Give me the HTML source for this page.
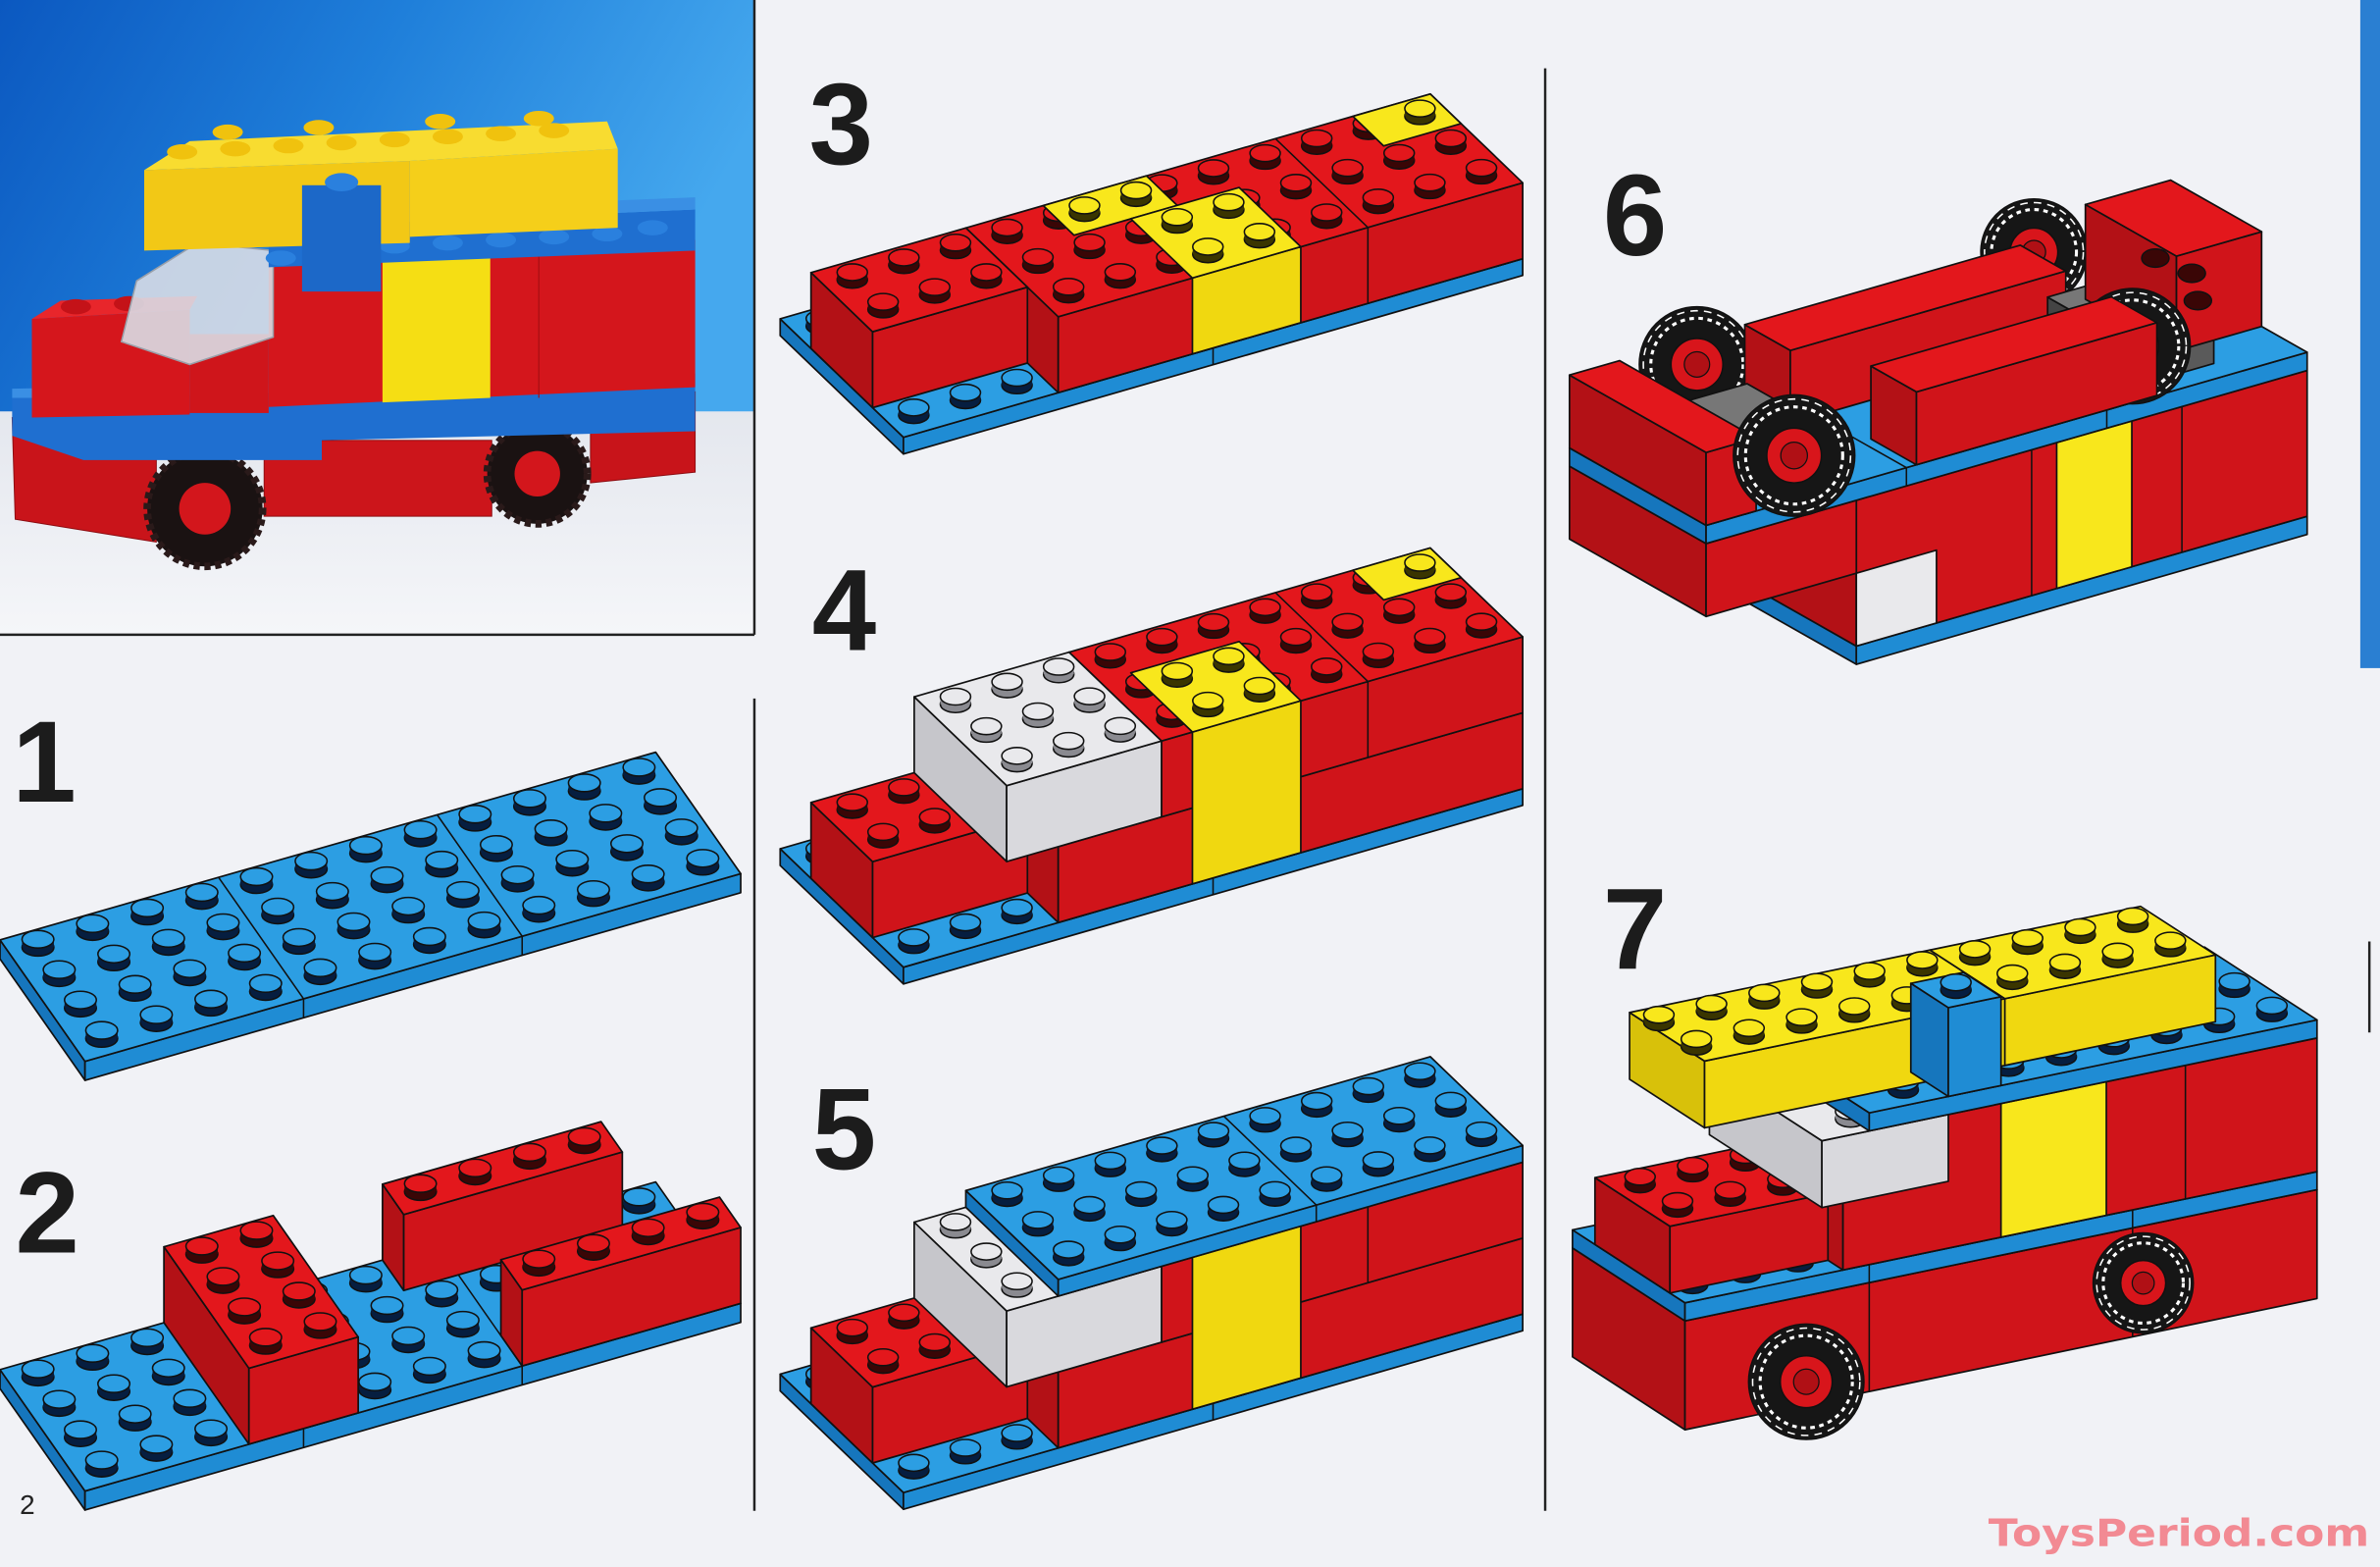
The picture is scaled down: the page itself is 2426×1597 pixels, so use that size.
<!DOCTYPE html>
<html><head><meta charset="utf-8"><style>
html,body{margin:0;padding:0;background:#f1f2f6;}
svg{display:block;}
</style></head><body>
<svg id="s" width="2426" height="1597" viewBox="0 0 1568 1032" preserveAspectRatio="none" xmlns="http://www.w3.org/2000/svg">
<defs>
<linearGradient id="sky" x1="0" y1="0" x2="1" y2="0.3">
<stop offset="0" stop-color="#0b58c0"/><stop offset="0.5" stop-color="#1f7fda"/><stop offset="1" stop-color="#45a8ee"/>
</linearGradient>
<linearGradient id="floor" x1="0" y1="0" x2="0" y2="1">
<stop offset="0" stop-color="#e4e7ee"/><stop offset="1" stop-color="#f5f6f9"/>
</linearGradient>
</defs>
<rect width="1568" height="1032" fill="#f1f2f6"/>
<rect x="1555" y="0" width="13" height="440" fill="#2a7fd2"/>
<!-- photo -->
<rect x="0" y="0" width="497" height="271" fill="url(#sky)"/>
<rect x="0" y="271" width="497" height="147" fill="url(#floor)"/>
<g stroke="#8a0b10" stroke-width="0.6">
<polygon points="8,275 103,282 103,357 10,342" fill="#c9141a"/>
<rect x="174" y="290" width="150" height="50" fill="#cc151b"/>
<polygon points="389,268 458,258 458,311 389,318" fill="#c8141a"/>
</g>
<circle cx="135" cy="335" r="38" fill="#1a1212" stroke="#2a1a1a" stroke-width="5" stroke-dasharray="4 3"/>
<circle cx="135" cy="335" r="17" fill="#d3161c"/>
<circle cx="354" cy="312" r="33" fill="#1a1212" stroke="#2a1a1a" stroke-width="5" stroke-dasharray="4 3"/>
<circle cx="354" cy="312" r="15" fill="#d3161c"/>
<polygon points="8,256 212,252 458,246 458,284 212,290 212,303 55,303 8,287" fill="#1f6fd0"/>
<polygon points="8,256 212,252 458,246 458,252 212,258 55,262 8,262" fill="#3a8fe4"/>
<ellipse cx="70" cy="262" rx="11" ry="6" fill="#2a7fdd"/><ellipse cx="108" cy="259" rx="11" ry="6" fill="#2a7fdd"/>
<polygon points="21,210 125,204 125,273 21,275" fill="#d5161c"/>
<polygon points="21,210 40,198 130,195 125,204" fill="#e8262b"/>
<ellipse cx="50" cy="202" rx="10" ry="5" fill="#c41218"/><ellipse cx="85" cy="200" rx="10" ry="5" fill="#c41218"/>
<rect x="125" y="220" width="52" height="52" fill="#cf151b"/>
<polygon points="177,170 458,158 458,255 177,268" fill="#d4161c"/>
<line x1="355" y1="163" x2="355" y2="262" stroke="#a90f14" stroke-width="0.8"/>
<polygon points="252,168 323,166 323,262 252,265" fill="#f5de14"/>
<polygon points="80,225 90,185 130,160 180,165 180,222 125,240" fill="#d9dde6" opacity="0.9"/>
<polygon points="80,225 90,185 130,160 180,165 180,222 125,240" fill="none" stroke="#9aa0aa" stroke-width="1"/>
<polygon points="177,150 458,138 458,165 177,176" fill="#1f6fd0"/>
<polygon points="177,150 200,140 458,130 458,138" fill="#3a8fe4"/>
<g fill="#2a80de"><ellipse cx="260" cy="162" rx="10" ry="5"/><ellipse cx="295" cy="160" rx="10" ry="5"/><ellipse cx="330" cy="158" rx="10" ry="5"/><ellipse cx="365" cy="156" rx="10" ry="5"/><ellipse cx="400" cy="154" rx="10" ry="5"/><ellipse cx="430" cy="150" rx="10" ry="5"/><ellipse cx="185" cy="170" rx="10" ry="5"/></g>
<polygon points="95,112 270,106 270,160 95,165" fill="#f2c816"/>
<polygon points="270,106 407,98 407,150 270,156" fill="#f5cf1a"/>
<polygon points="95,112 125,93 400,80 407,98 270,106" fill="#f8dc30"/>
<g fill="#f0c20e"><ellipse cx="120" cy="100" rx="10" ry="5"/><ellipse cx="155" cy="98" rx="10" ry="5"/><ellipse cx="190" cy="96" rx="10" ry="5"/><ellipse cx="225" cy="94" rx="10" ry="5"/><ellipse cx="260" cy="92" rx="10" ry="5"/><ellipse cx="295" cy="90" rx="10" ry="5"/><ellipse cx="330" cy="88" rx="10" ry="5"/><ellipse cx="365" cy="86" rx="10" ry="5"/><ellipse cx="150" cy="87" rx="10" ry="5"/><ellipse cx="210" cy="84" rx="10" ry="5"/><ellipse cx="290" cy="80" rx="10" ry="5"/><ellipse cx="355" cy="78" rx="10" ry="5"/></g>
<rect x="199" y="122" width="52" height="70" fill="#1c68c8"/>
<ellipse cx="225" cy="120" rx="11" ry="6" fill="#2a80de"/>
<!-- dividers -->
<g stroke="#222" stroke-width="1.6">
<line x1="0" y1="418" x2="497" y2="418"/>
<line x1="497" y1="0" x2="497" y2="418"/>
<line x1="497" y1="460" x2="497" y2="995"/>
<line x1="1018" y1="45" x2="1018" y2="995"/>
<line x1="1561" y1="620" x2="1561" y2="680"/>
</g>
<g id="g"></g>
<g font-family="'Liberation Sans',sans-serif" font-weight="bold" font-size="76" fill="#1c1c1c">
<text x="533" y="108">3</text>
<text x="535" y="428">4</text>
<text x="535" y="770">5</text>
<text x="8" y="528">1</text>
<text x="10" y="825">2</text>
<text x="1056" y="168">6</text>
<text x="1056" y="638">7</text>
</g>
<text x="13" y="997" font-family="'Liberation Sans',sans-serif" font-size="18" fill="#222">2</text>
<text x="1310" y="1018" font-family="'DejaVu Sans','Liberation Sans',sans-serif" font-weight="bold" font-size="25" fill="#f28a93" textLength="251" lengthAdjust="spacingAndGlyphs">ToysPeriod.com</text>
</svg>
<script>
var out='';
var C={r:['#e3171c','#d0141a','#b31116','#3a0606'],y:['#f8e71c','#f0d810','#d8c10a','#3a3500'],b:['#2c9ee3','#1f8cd4','#1676bd','#061e40'],g:['#e9e9ec','#d9d9dd','#c6c6cb','#8a8a90'],k:['#777','#5a5a5a','#444','#222']};
function F(O,L,D,H){return function(u,v,z){return [O[0]+u*L[0]+v*D[0],O[1]+u*L[1]+v*D[1]-z*H];};}
function pts(a){return a.map(function(p){return p[0].toFixed(1)+','+p[1].toFixed(1);}).join(' ');}
function poly(a,fill){out+='<polygon points="'+pts(a)+'" fill="'+fill+'" stroke="#111" stroke-width="1.1" stroke-linejoin="round"/>';}
function stud(x,y,c,rx){var ry=rx*0.55,h=rx*0.5;
out+='<ellipse cx="'+x.toFixed(1)+'" cy="'+y.toFixed(1)+'" rx="'+rx+'" ry="'+ry+'" fill="'+c[3]+'" stroke="#111" stroke-width="1"/>';
out+='<rect x="'+(x-rx).toFixed(1)+'" y="'+(y-h).toFixed(1)+'" width="'+(2*rx)+'" height="'+h+'" fill="'+c[3]+'"/>';
out+='<ellipse cx="'+x.toFixed(1)+'" cy="'+(y-h).toFixed(1)+'" rx="'+rx+'" ry="'+ry+'" fill="'+c[0]+'" stroke="#111" stroke-width="1"/>';}
function box(f,u0,u1,v0,v1,z0,z1,c,o){o=o||{};var col=C[c];
if(!o.noL)poly([f(u0,v0,z0),f(u0,v1,z0),f(u0,v1,z1),f(u0,v0,z1)],col[2]);
if(!o.noF)poly([f(u0,v1,z0),f(u1,v1,z0),f(u1,v1,z1),f(u0,v1,z1)],col[1]);
if(!o.noT)poly([f(u0,v0,z1),f(u1,v0,z1),f(u1,v1,z1),f(u0,v1,z1)],col[0]);
if(o.seams){o.seams.forEach(function(s){var a=f(s,v0,z1),b=f(s,v1,z1),c2=f(s,v1,z0);out+='<polyline points="'+pts([a,b,c2])+'" fill="none" stroke="#111" stroke-width="1"/>';});}
if(o.st){var rx=o.sr||10;for(var v=v0+0.5;v<v1;v+=1){for(var u=u1-0.5;u>u0;u-=1){var p=f(u,v,z1);stud(p[0],p[1],col,rx);}}}}
function wheel(x,y,r){out+='<circle cx="'+x+'" cy="'+y+'" r="'+r+'" fill="#161616" stroke="#111" stroke-width="1"/>';
out+='<circle cx="'+x+'" cy="'+y+'" r="'+(r*0.8)+'" fill="none" stroke="#fff" stroke-width="2" stroke-dasharray="3 3"/>';
out+='<circle cx="'+x+'" cy="'+y+'" r="'+(r*0.93)+'" fill="none" stroke="#fff" stroke-width="1" stroke-dasharray="5 4"/>';
out+='<circle cx="'+x+'" cy="'+y+'" r="'+(r*0.45)+'" fill="#d8151b" stroke="#111" stroke-width="1"/>';
out+='<circle cx="'+x+'" cy="'+y+'" r="'+(r*0.22)+'" fill="#b01015" stroke="#111" stroke-width="0.8"/>';}

var f1=F([0,619],[36,-10.3],[14,20],50);
box(f1,0,12,0,4,-0.25,0,'b',{st:1,sr:10.5,seams:[4,8]});
var f2=F([0,902],[36,-10.3],[14,20],50);
box(f2,0,12,0,4,-0.25,0,'b',{st:1,sr:10.5,seams:[4,8]});
box(f2,7,11,0,1,0,1,'r',{st:1,sr:10.5});
box(f2,8,12,3,4,0,1,'r',{st:1,sr:10.5});
box(f2,3,5,0,4,0,1,'r',{st:1,sr:10.5});
var f3=F([514,210],[34,-9.8],[20.3,19.5],50);
box(f3,0,12,0,4,-0.22,0,'b',{st:1,seams:[6]});
box(f3,3,12,1,4,0,1,'r',{st:1,seams:[9]});
box(f3,10.5,12,1,2,0,1,'y',{noL:1,noF:1,st:1});
box(f3,4.5,6.5,1,2,0,1,'y',{noL:1,noF:1,st:1});
box(f3,5.6,7.7,2,4,0,1,'y',{noL:1,st:1});
box(f3,0,3,1,3,0,1,'r',{st:1});
var f4=F([514,559],[34,-9.8],[20.3,19.5],50);
box(f4,0,12,0,4,-0.22,0,'b',{st:1,seams:[6]});
box(f4,3,12,1,4,0,1,'r',{noT:1});
box(f4,5,12,1,4,1,2,'r',{st:1,seams:[9]});
box(f4,10.5,12,1,2,1,2,'y',{noL:1,noF:1,st:1});
box(f4,5.6,7.7,2,4,0,2,'y',{noL:1,st:1});
box(f4,0,3,1,3,0,1,'r',{st:1});
box(f4,2,5,1,4,1,2,'g',{st:1});
var f5=F([514,905],[34,-9.8],[20.3,19.5],50);
box(f5,0,12,0,4,-0.22,0,'b',{st:1,seams:[6]});
box(f5,3,12,1,4,0,1,'r',{noT:1});
box(f5,5,12,1,4,1,2,'r',{noT:1,seams:[9]});
box(f5,5.6,7.7,3,4,0,2,'y',{noL:1,noT:1});
box(f5,0,3,1,3,0,1,'r',{st:1});
box(f5,2,5,1,4,1,2,'g',{st:1});
box(f5,3,12,1,4,2,2.22,'b',{st:1,seams:[8]});
var f6=F([1034,247],[33,-9.5],[30,17],48);
box(f6,3,12,0,3,-3.5,-3.25,'b',{noT:1});
box(f6,3,12,0,3,-3.25,-1.25,'r',{noT:1,seams:[6.5,9.5]});
poly([f6(7,3,-3.25),f6(8.5,3,-3.25),f6(8.5,3,-1.25),f6(7,3,-1.25)],C.y[0]);
poly([f6(3,3,-3.25),f6(4.6,3,-3.25),f6(4.6,3,-2.25),f6(3,3,-2.25)],C.g[0]);
box(f6,0,3,0,3,-2.25,-1.25,'r',{noT:1});
box(f6,0,12,0,3,-1.25,-1,'b',{seams:[4,8]});
wheel(1118,240,38);wheel(1340,166,35);
box(f6,3.5,9,0,1,-1,0,'r');
box(f6,9,10.5,0.6,2.6,-1,-0.5,'k');
box(f6,10.3,12,0,2,-1,0.3,'r');
out+='<g fill="#3a0606" stroke="#111">';[[1420,170],[1444,180],[1448,198]].forEach(function(p){out+='<ellipse cx="'+p[0]+'" cy="'+p[1]+'" rx="9" ry="6"/>';});out+='</g>';
box(f6,1,3,0.6,2.6,-1,-0.5,'k');
box(f6,0,1,0,3,-1,0,'r');
wheel(1182,300,40);wheel(1405,228,38);
box(f6,4.2,9,2,3,-1,0,'r');
var f7=F([1036,810],[34.7,-7.2],[24.7,16],44);
box(f7,0,12,0,3,-1.9,-0.27,'r',{seams:[3.5,8.5]});
wheel(1190,910,38);wheel(1412,845,33);
box(f7,0,12,0,3,-0.27,0,'b',{st:1,seams:[3.5,8.5]});
box(f7,3,12,0,3,0,2,'r',{noT:1,seams:[9.5]});
poly([f7(6,3,0),f7(8,3,0),f7(8,3,2),f7(6,3,2)],C.y[0]);
box(f7,0,3,0.6,2.6,0,1,'r',{st:1});
box(f7,2.6,5,0,3,1,2,'g',{st:1});
box(f7,3.5,12,0,3,2,2.27,'b',{st:1});
box(f7,6.5,10.5,0.4,2.4,2.27,3.27,'y',{st:1});
box(f7,0.8,6.5,0.4,2.4,2.27,3.27,'y',{st:1});
box(f7,5,6,2,3,2.27,3.6,'b',{st:1});
document.getElementById('g').innerHTML=out;
</script>
</body></html>
